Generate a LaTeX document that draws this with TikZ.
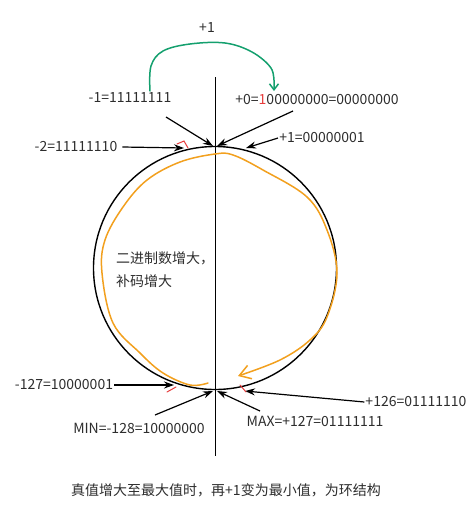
\documentclass[tikz,border=0pt]{standalone}
\usepackage{fontspec}
\setmainfont{Noto Sans CJK SC}
\usetikzlibrary{arrows, arrows.meta}
\usetikzlibrary{calc}
\definecolor{loopgreen}{RGB}{20,160,110}
\definecolor{looporange}{RGB}{242,160,30}
\definecolor{markred}{RGB}{230,60,60}
\definecolor{txtgray}{RGB}{45,45,45}

\begin{document}
\begin{tikzpicture}[x=1pt, y=-1pt, font=\fontsize{14}{17}\selectfont, text=txtgray,
    lbl/.style={inner sep=1pt},
    ptr/.style={line width=1.2pt, -{Stealth[length=10pt, width=7pt]}},
    redtick/.style={markred, line width=1pt, line cap=round}]
      \useasboundingbox (0,0) rectangle (474,512);

      % ring and axis
      \node[circle, draw, line width=1.4pt, minimum size=243pt, inner sep=0pt] (ring) at (215,268) {};
      \coordinate (axtop) at (215,77);
      \coordinate (axbot) at (215,456);
      \draw[line width=1pt] (axtop) -- (axbot);

      % points on the ring
      \coordinate (zero) at (215,146);
      \coordinate (q1) at (246,148);
      \coordinate (q2) at (184,148);
      \coordinate (bot) at (215,391);
      \coordinate (q126) at (245,391);
      \coordinate (q127) at (174,385);

      % labels
      \node[lbl] (plus) at (207,28) {+1};
      \node[lbl] (m1) at (130,98) {-1=11111111};
      \node[lbl] (p0) at (317,100) {+0=\textcolor{markred}{1}00000000=00000000};
      \node[lbl] (m2) at (76,147) {-2=11111110};
      \node[lbl] (p1) at (322,138) {+1=00000001};
      \node[lbl] (m127) at (64,385) {-127=10000001};
      \node[lbl] (min) at (139,428) {MIN=-128=10000000};
      \node[lbl] (max) at (315,421) {MAX=+127=01111111};
      \node[lbl] (p126) at (416,402) {+126=01111110};
      \node[lbl, anchor=west, align=left, font=\fontsize{14}{23}\selectfont] (grow) at (115,270) {二进制数增大，\\补码增大};
      \node[lbl] (note) at (226,490) {真值增大至最大值时，再+1变为最小值，为环结构};

      % pointers
      \coordinate (m1s) at (166,117);
      \coordinate (p0s) at (293,111);
      \coordinate (mins) at (155,415);
      \coordinate (maxs) at (260,411);
      \draw[ptr] (m1s) -- ([xshift=-2pt]zero);
      \draw[ptr] (p0s) -- ([xshift=2pt]zero);
      \draw[ptr] ([xshift=4pt]m2.east) -- (q2);
      \draw[ptr] (p1.west) -- (q1);
      \draw[ptr] (m127.east) -- (q127);
      \draw[ptr] (p126.west) -- (q126);
      \draw[ptr] (mins) -- ([xshift=-2pt]bot);
      \draw[ptr] (maxs) -- ([xshift=2pt]bot);

      % red ticks
      \draw[redtick] (177,144) -- (184,141) -- (188,148);
      \draw[redtick] (167,392) -- (176,387);
      \draw[redtick] (240,385) -- (246,392);

      % +1 jump
      \coordinate (js) at (150,91);
      \coordinate (je) at (274,91);
      \draw[loopgreen, line width=1.5pt, line cap=round, -{Straight Barb[length=6pt, width=9pt]}]
        plot[smooth, tension=0.6] coordinates {(js) (151,66) (163,51) (190,44) (225,43) (252,52) (271,68) (274,84)} -- (je);

      % growth loop
      \draw[looporange, line width=1.5pt, line cap=round, -{Straight Barb[length=11pt, width=14pt]}]
        plot[smooth, tension=0.6] coordinates {(208,383) (190,385) (163,373) (140,353) (113,323) (102,273) (105,240)
          (123,207) (147,180) (180,162) (215,154) (233,155) (263,170) (307,197) (327,230) (337,273)
          (327,317) (310,340) (280,360) (238,376)};
\end{tikzpicture}
\end{document}
